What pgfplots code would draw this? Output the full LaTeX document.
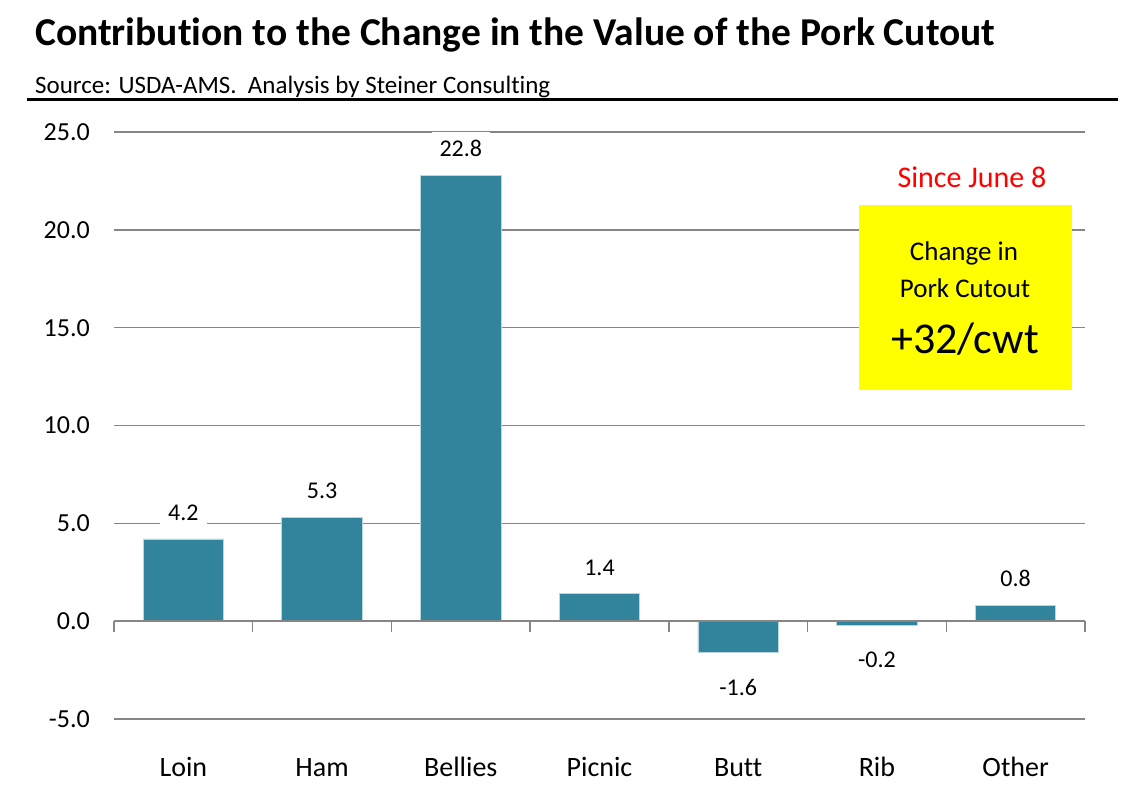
\documentclass[border=0pt]{standalone}
\usepackage{fontspec}
\setmainfont{Carlito}[Ligatures=NoCommon]
\usepackage{pgfplots}
\pgfplotsset{compat=1.18}
\definecolor{barteal}{HTML}{31849B}
\definecolor{baredge}{HTML}{BCD6DE}
\definecolor{gridgray}{HTML}{868686}
\definecolor{boxyellow}{HTML}{FFFF00}
\definecolor{notered}{HTML}{FF0000}
\begin{document}
\begin{tikzpicture}
\useasboundingbox (0bp,0bp) rectangle (1135bp,-812bp);
% heading, source line and rule
\node[anchor=base west, inner sep=0pt] at (35bp,-45bp)
  {\fontsize{39.5bp}{44bp}\selectfont\bfseries Contribution to the Change in the Value of the Pork Cutout};
\node[anchor=base west, inner sep=0pt] at (35bp,-93bp)
  {\fontsize{25bp}{29bp}\selectfont Source: USDA-AMS.\ \ Analysis by Steiner Consulting};
\draw[line width=3bp] (27bp,-99.2bp) -- (1118bp,-99.2bp);

\begin{axis}[
  at={(114bp,-719bp)}, anchor=south west,
  scale only axis, width=971bp, height=587bp,
  xmin=-0.5, xmax=6.5, ymin=-5, ymax=25,
  ytick={-5,0,5,10,15,20,25},
  xtick={0,1,2,3,4,5,6},
  xticklabels={Loin,Ham,Bellies,Picnic,Butt,Rib,Other},
  axis line style={draw=none},
  major tick style={draw=none},
  ymajorgrids,
  grid style={gridgray, line width=1.5bp},
  yticklabel style={anchor=east, inner sep=0pt, xshift=-24bp,
    font=\fontsize{26bp}{30bp}\selectfont},
  xticklabel style={anchor=base, inner sep=0pt, yshift=-53bp,
    font=\fontsize{28bp}{32bp}\selectfont},
  /pgf/number format/fixed,
  /pgf/number format/fixed zerofill,
  /pgf/number format/precision=1,
  /pgf/number format/assume math mode=true,
  ybar, bar width=0.58, bar shift=0pt,
  clip=false,
]
% gains
\addplot[fill=barteal, draw=baredge, line width=0.8bp,
  nodes near coords,
  every node near coord/.append style={font=\fontsize{24bp}{28bp}\selectfont,
    text=black, fill=white, inner sep=8bp, yshift=10bp}]
  coordinates {(0,4.2) (1,5.3) (2,22.8) (3,1.4) (6,0.8)};
% losses
\addplot[fill=barteal, draw=baredge, line width=0.8bp,
  nodes near coords,
  every node near coord/.append style={font=\fontsize{24bp}{28bp}\selectfont,
    text=black, fill=white, inner sep=8bp, yshift=-18bp}]
  coordinates {(4,-1.6) (5,-0.2)};
% zero line with category dividers
\draw[gridgray, line width=1.5bp] (axis cs:-0.5,0) -- (axis cs:6.5,0);
\pgfplotsinvokeforeach{-0.5,0.5,1.5,2.5,3.5,4.5,5.5,6.5}{
  \draw[gridgray, line width=1.5bp] (axis cs:#1,0) -- ++(0bp,-11bp);
}
\end{axis}

% summary box
\fill[boxyellow] (859bp,-205bp) rectangle (1072bp,-390bp);
\node[anchor=base, inner sep=0pt, text=notered] at (972bp,-187bp)
  {\fontsize{30bp}{34bp}\selectfont Since June 8};
\node[anchor=base, inner sep=0pt] at (964bp,-260bp)
  {\fontsize{27bp}{31bp}\selectfont Change in};
\node[anchor=base, inner sep=0pt] at (965bp,-297bp)
  {\fontsize{27bp}{31bp}\selectfont Pork Cutout};
\node[anchor=base, inner sep=0pt] at (965bp,-353bp)
  {\fontsize{44bp}{48bp}\selectfont +32/cwt};
\end{tikzpicture}
\end{document}
